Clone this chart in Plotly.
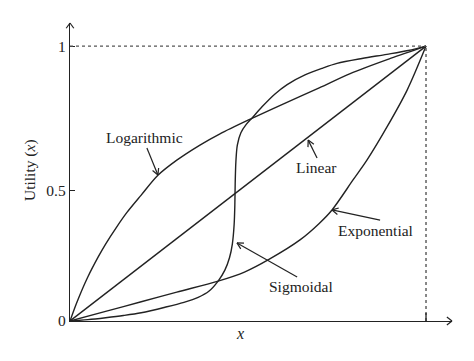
import math
import plotly.graph_objects as go

# ---- data ----
log_x = [0, 0.02, 0.05, 0.08, 0.1, 0.13, 0.16, 0.2, 0.247, 0.3, 0.365, 0.42, 0.511, 0.6, 0.7, 0.787, 0.9, 1]
log_y = [0, 0.07, 0.16, 0.235, 0.28, 0.34, 0.395, 0.458, 0.53, 0.585, 0.64, 0.68, 0.737, 0.79, 0.848, 0.9, 0.955, 1]

lin_x = [0, 1]
lin_y = [0, 1]

exp_x = [0, 0.1, 0.2, 0.3, 0.416, 0.49, 0.56, 0.646, 0.7, 0.736, 0.795, 0.834, 0.89, 0.947, 1]
exp_y = [0, 0.035, 0.07, 0.105, 0.145, 0.178, 0.225, 0.295, 0.355, 0.404, 0.513, 0.585, 0.705, 0.84, 1]

sig_x = [0, 0.05, 0.1, 0.15, 0.2, 0.267, 0.32, 0.36, 0.39, 0.416, 0.435, 0.448, 0.456, 0.461,
         0.463, 0.464, 0.466, 0.47, 0.48, 0.495, 0.511, 0.54, 0.575, 0.61, 0.66, 0.71, 0.75,
         0.82, 0.89, 0.95, 1]
sig_y = [0, 0.005, 0.012, 0.02, 0.03, 0.05, 0.068, 0.086, 0.108, 0.145, 0.185, 0.23, 0.28, 0.35,
         0.42, 0.5, 0.58, 0.64, 0.685, 0.715, 0.738, 0.78, 0.825, 0.86, 0.895, 0.92, 0.937,
         0.955, 0.97, 0.984, 1]

y_tick_vals = [0, 0.473, 1]
y_tick_text = ["0", "0.5", "1"]

labels = ["Logarithmic", "Linear", "Exponential", "Sigmoidal"]
label_pos = [(0.208, 0.669), (0.691, 0.56), (0.857, 0.331), (0.649, 0.124)]
arrow_tail = [(0.216, 0.629), (0.694, 0.593), (0.871, 0.367), (0.638, 0.16)]
arrow_tip = [(0.247, 0.531), (0.669, 0.658), (0.736, 0.404), (0.469, 0.284)]

# ---- layout constants ----
W, H = 474, 361
ML, MR, MT, MB = 70, 22, 23, 40
XR = [0, 1.073]
YR = [0, 1.084]
PW = W - ML - MR
PH = H - MT - MB
SX = PW / (XR[1] - XR[0])
SY = PH / (YR[1] - YR[0])

FONT = "Liberation Serif, Times New Roman, serif"
INK = "#222222"

fig = go.Figure()
for xs, ys in [(log_x, log_y), (lin_x, lin_y), (exp_x, exp_y), (sig_x, sig_y)]:
    fig.add_trace(go.Scatter(x=xs, y=ys, mode="lines",
                             line=dict(color=INK, width=1.4, shape="spline", smoothing=0.9),
                             showlegend=False, hoverinfo="skip"))

shapes = []
# dotted guides
shapes.append(dict(type="line", xref="x", yref="y", x0=0, y0=1, x1=1, y1=1,
                   line=dict(color="#555", width=1.4, dash="dot")))
shapes.append(dict(type="line", xref="x", yref="y", x0=1, y0=0, x1=1, y1=1,
                   line=dict(color="#555", width=1.4, dash="dot")))
# solid tick at x = 1
shapes.append(dict(type="line", xref="x", yref="y", x0=1, y0=0, x1=1, y1=8 / SY,
                   line=dict(color=INK, width=1.3)))


def v_head(tip, tail, sx, sy, xref, yref, arm=7.0, ang=28.0):
    dx = (tip[0] - tail[0]) * sx
    dy = (tip[1] - tail[1]) * sy
    L = math.hypot(dx, dy)
    ux, uy = dx / L, dy / L
    out = []
    for s in (1, -1):
        a = math.radians(ang * s)
        rx = ux * math.cos(a) - uy * math.sin(a)
        ry = ux * math.sin(a) + uy * math.cos(a)
        out.append(dict(type="line", xref=xref, yref=yref,
                        x0=tip[0], y0=tip[1],
                        x1=tip[0] - arm * rx / sx, y1=tip[1] - arm * ry / sy,
                        line=dict(color=INK, width=1.2)))
    return out


for tail, tip in zip(arrow_tail, arrow_tip):
    shapes.append(dict(type="line", xref="x", yref="y", x0=tail[0], y0=tail[1],
                       x1=tip[0], y1=tip[1], line=dict(color=INK, width=1.2)))
    shapes += v_head(tip, tail, SX, SY, "x", "y")

# axis arrowheads (paper coordinates, not clipped)
shapes += v_head((0, 1), (0, 0.9), PW, PH, "paper", "paper", arm=6.5, ang=36)
shapes += v_head((1, 0), (0.9, 0), PW, PH, "paper", "paper", arm=6.5, ang=38)

annotations = []
for txt, (lx, ly) in zip(labels, label_pos):
    annotations.append(dict(x=lx, y=ly, xref="x", yref="y", text=txt, showarrow=False,
                            xanchor="center", yanchor="middle",
                            font=dict(family=FONT, size=15.5, color=INK)))
annotations.append(dict(x=0.478, y=0, xref="x", yref="paper", text="<i>x</i>",
                        showarrow=False, xanchor="center", yanchor="middle", yshift=-12,
                        font=dict(family=FONT, size=16, color=INK)))
annotations.append(dict(x=0, y=0.5, xref="paper", yref="paper", text="Utility (<i>x</i>)",
                        showarrow=False, textangle=-90, xanchor="center", yanchor="middle",
                        xshift=-40, yshift=2,
                        font=dict(family=FONT, size=15.5, color=INK)))

fig.update_layout(
    width=W, height=H,
    margin=dict(l=ML, r=MR, t=MT, b=MB),
    paper_bgcolor="white", plot_bgcolor="white",
    shapes=shapes, annotations=annotations,
    xaxis=dict(range=XR, showgrid=False, zeroline=False, showline=True, linecolor=INK,
               linewidth=1.4, tickvals=[], showticklabels=False, fixedrange=True),
    yaxis=dict(range=YR, showgrid=False, zeroline=False, showline=True, linecolor=INK,
               linewidth=1.4, tickvals=y_tick_vals, ticktext=y_tick_text, ticks="inside",
               ticklen=5, tickcolor=INK, tickwidth=1.3,
               tickfont=dict(family=FONT, size=15.5, color=INK), fixedrange=True),
)

fig.write_html("out.html")
